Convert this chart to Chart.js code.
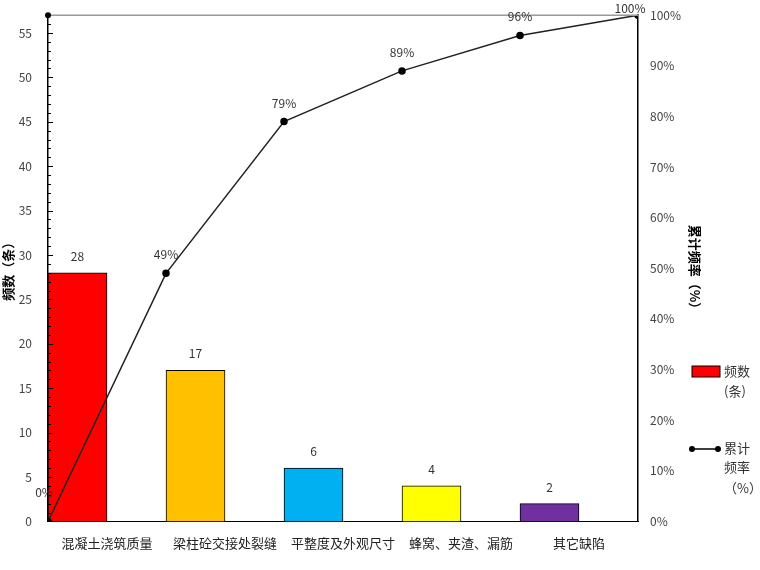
<!DOCTYPE html><html><head><meta charset="utf-8"><script src="https://cdn.jsdelivr.net/npm/chart.js@4"></script>
<style>body{margin:0;background:#fff}#w{width:760px;height:570px}</style></head><body><div id="w"><canvas id="c"></canvas></div>
<script>
const categories=["混凝土浇筑质量","梁柱砼交接处裂缝","平整度及外观尺寸","蜂窝、夹渣、漏筋","其它缺陷"];
const counts=[28,17,6,4,2];
const barColors=["#ff0000","#ffc000","#00b0f0","#ffff00","#7030a0"];
const cumPct=[0,49,79,89,96,100];
const cumLabels=["0%","49%","79%","89%","96%","100%"];
const FONT="'Noto Sans CJK SC','Noto Sans',sans-serif";
const overlay={id:'ov',afterDraw(ch){const c=ch.ctx,a=ch.chartArea,y=ch.scales.y;c.save();
 c.strokeStyle='#999';c.lineWidth=1.5;c.beginPath();c.moveTo(a.left,a.top);c.lineTo(a.right,a.top);c.stroke();
 c.strokeStyle='#000';c.lineWidth=1;for(let v=0;v<=57;v++){const py=Math.round(y.getPixelForValue(v))+.5;c.beginPath();c.moveTo(a.left,py);c.lineTo(a.left+(v%5?3:5),py);c.stroke();}
 c.fillStyle='#000';c.beginPath();c.arc(a.left,a.top,3,0,7);c.fill();
 c.font="12px "+FONT;c.textAlign='center';c.fillStyle='#333';
 const m=ch.getDatasetMeta(0);m.data.forEach((b,i)=>c.fillText(counts[i],b.x,b.y-12));
 const l=ch.getDatasetMeta(1);l.data.forEach((p,i)=>{let dx=0,dy=-14;if(i==0){dx=-4;dy=-24;}if(i==5){dx=-8;dy=-2;}c.fillText(cumLabels[i],p.x+dx,p.y+dy);});
 // right title
 c.save();c.translate(690,270);c.rotate(Math.PI/2);c.font="bold 13px "+FONT;c.fillStyle='#000';c.fillText('累计频率（%）',0,0);c.restore();
 // legend
 c.fillStyle='#f00';c.strokeStyle='#000';c.fillRect(692,366,28,11);c.strokeRect(692,366,28,11);
 c.fillStyle='#333';c.textAlign='left';c.font="13px "+FONT;c.fillText('频数',724,376);c.fillText('(条)',724,396);
 c.strokeStyle='#000';c.lineWidth=1.5;c.beginPath();c.moveTo(692,449);c.lineTo(718,449);c.stroke();
 c.fillStyle='#000';[692,718].forEach(x=>{c.beginPath();c.arc(x,449,3,0,7);c.fill();});
 c.fillStyle='#333';c.fillText('累计',724,453);c.fillText('频率',724,472);c.fillText('（%）',724,493);
 c.restore();}};
new Chart(document.getElementById('c'),{data:{labels:categories,datasets:[
 {type:'bar',order:2,data:counts,backgroundColor:barColors,borderColor:'#000',borderWidth:1,categoryPercentage:1,barPercentage:1,xAxisID:'x',yAxisID:'y'},
 {type:'line',order:1,data:cumPct.map((v,i)=>({x:i,y:v})),borderColor:'#222',borderWidth:1.5,pointRadius:3,pointBackgroundColor:'#000',pointBorderColor:'#000',xAxisID:'x2',yAxisID:'y2'}]},
 options:{responsive:true,maintainAspectRatio:false,animation:false,layout:{padding:{top:15,right:0,left:0,bottom:5}},
 plugins:{legend:{display:false},tooltip:{enabled:false}},
 scales:{x:{type:'category',offset:true,grid:{display:false,drawTicks:false,offset:true},border:{color:'#000'},ticks:{color:'#222',font:{size:13,family:FONT},padding:14}},
 x2:{type:'linear',min:0,max:5,display:false},
 y:{position:'left',min:0,max:57,afterBuildTicks(s){s.ticks=[];for(let v=0;v<=55;v+=5)s.ticks.push({value:v});},afterFit(s){s.width=48;},
  grid:{display:false},border:{color:'#000',width:1.5},ticks:{color:'#444',font:{size:12,family:FONT},padding:8},
  title:{display:true,text:'频数（条）',color:'#000',font:{size:13,weight:'bold',family:FONT},padding:0}},
 y2:{position:'right',min:0,max:100,afterFit(s){s.width=122;},grid:{display:false},border:{color:'#000',width:1.5},
  ticks:{stepSize:10,color:'#444',font:{size:12,family:FONT},callback:v=>v+'%',padding:4}}}},
 plugins:[overlay]});
</script></body></html>
